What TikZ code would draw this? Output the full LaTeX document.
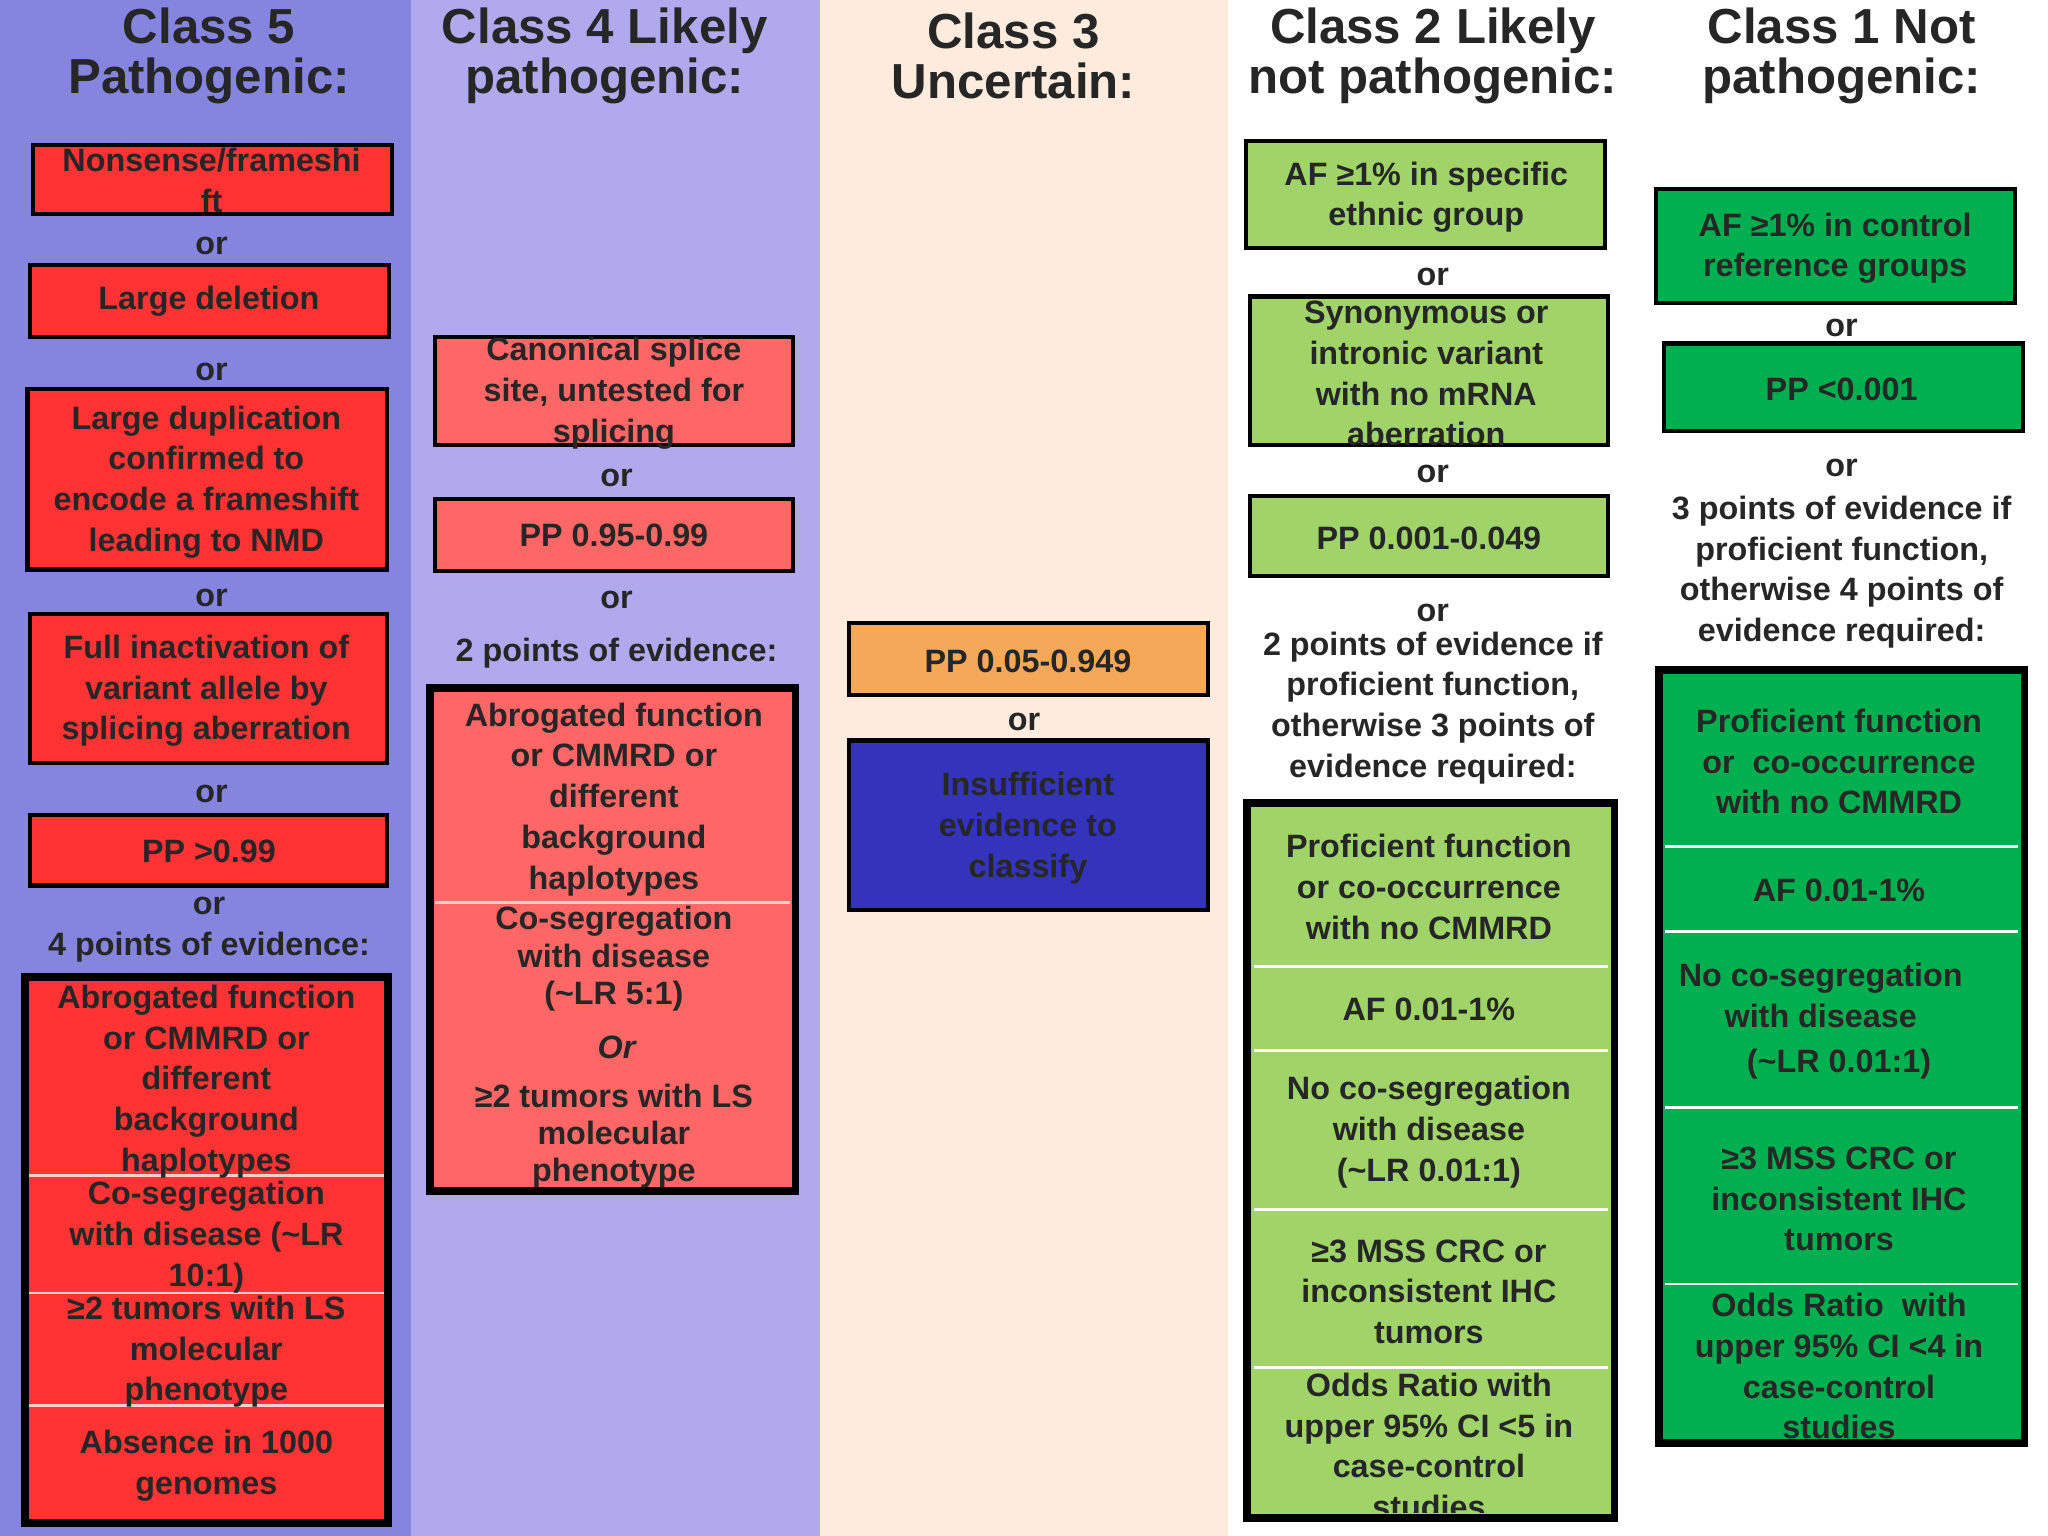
\documentclass[tikz,border=0pt]{standalone}
\usepackage{fontspec}
\setmainfont{Liberation Sans}
\begin{document}
\begin{tikzpicture}[x=0.013061cm,y=-0.013061cm,
  txt/.style={font=\bfseries\fontsize{9.2}{11.6}\selectfont,align=center,inner sep=0pt,text=black!85},
  ttl/.style={font=\bfseries\fontsize{14}{14.2}\selectfont,align=center,inner sep=0pt,text=black!85},
  box/.style={draw=black,line width=1.2pt},
  bigbox/.style={draw=black,line width=2.2pt},
  sep/.style={white!80!red,line width=0.8pt}]
\definecolor{cA}{HTML}{8585DF}\definecolor{cB}{HTML}{B0A9EE}\definecolor{cC}{HTML}{FDEBDD}
\definecolor{rd}{HTML}{FF3333}\definecolor{lr}{HTML}{FF6666}\definecolor{og}{HTML}{F5A858}
\definecolor{bl}{HTML}{3333BB}\definecolor{lg}{HTML}{A0D468}\definecolor{dg}{HTML}{00B050}
\useasboundingbox (0,0) rectangle (1568,1176);
\fill[cA] (0,0) rectangle (315,1176);
\fill[cB] (315,0) rectangle (628,1176);
\fill[cC] (628,0) rectangle (940,1176);
% titles
\node[ttl] (t5) at (160,43) {Class 5\\Pathogenic:};
\node[ttl] (t4) at (463,43) {Class 4 Likely\\pathogenic:};
\node[ttl] (t3) at (776,43) {Class 3\\Uncertain:};
\node[ttl] (t2) at (1097,43) {Class 2 Likely\\not pathogenic:};
\node[ttl] (t1) at (1410,43) {Class 1 Not\\pathogenic:};
% column 1
\draw[box,fill=rd] (25,111) rectangle (300,164);
\node[txt] (a1) at (162,138) {Nonsense/frameshi\\ft};
\node[txt] at (162,188) {or};
\draw[box,fill=rd] (23,203) rectangle (298,258);
\node[txt] (a2) at (160,231) {Large deletion};
\node[txt] at (162,285) {or};
\draw[box,fill=rd] (21,298) rectangle (296,436);
\node[txt] (a3) at (158,369) {Large duplication\\confirmed to\\encode a frameshift\\leading to NMD};
\node[txt] at (162,458) {or};
\draw[box,fill=rd] (23,470) rectangle (296,584);
\node[txt] (a4) at (158,529) {Full inactivation of\\variant allele by\\splicing aberration};
\node[txt] at (162,608) {or};
\draw[box,fill=rd] (23,624) rectangle (296,678);
\node[txt] (a5) at (160,652) {PP >0.99};
\node[txt] at (160,712) {or\\4 points of evidence:};
\draw[bigbox,fill=rd] (19,748) rectangle (297,1166);
\draw[sep] (22,900) -- (294,900) (22,990) -- (294,990) (22,1076) -- (294,1076);
\node[txt] (a6) at (158,828) {Abrogated function\\or CMMRD or\\different\\background\\haplotypes};
\node[txt] (a7) at (158,947) {Co-segregation\\with disease (\textasciitilde LR\\10:1)};
\node[txt] (a8) at (158,1035) {≥2 tumors with LS\\molecular\\phenotype};
\node[txt] (a9) at (158,1122) {Absence in 1000\\genomes};
% column 2
\draw[box,fill=lr] (333,258) rectangle (607,341);
\node[txt] (b1) at (470,301) {Canonical splice\\site, untested for\\splicing};
\node[txt] at (472,366) {or};
\draw[box,fill=lr] (333,382) rectangle (607,437);
\node[txt] (b2) at (470,410) {PP 0.95-0.99};
\node[txt] at (472,482) {or\\[0.4em]2 points of evidence:};
\draw[bigbox,fill=lr] (329,527) rectangle (609,912);
\draw[sep] (333,691) -- (605,691);
\node[txt] (b3) at (470,612) {Abrogated function\\or CMMRD or\\different\\background\\haplotypes};
\node[txt,font=\bfseries\fontsize{9.2}{10.6}\selectfont] (b4) at (470,734) {Co-segregation\\with disease\\(\textasciitilde LR 5:1)};
\node[txt] at (472,802) {\itshape Or};
\node[txt,font=\bfseries\fontsize{9.2}{10.6}\selectfont] (b5) at (470,870) {≥2 tumors with LS\\molecular\\phenotype};
% column 3
\draw[box,fill=og] (650,477) rectangle (925,532);
\node[txt] (c1) at (787,506) {PP 0.05-0.949};
\node[txt] at (784,553) {or};
\draw[box,fill=bl] (650,567) rectangle (925,697);
\node[txt] (c2) at (787,634) {Insufficient\\evidence to\\classify};
% column 4
\draw[box,fill=lg] (954,108) rectangle (1229,190);
\node[txt] (d1) at (1092,151) {AF ≥1\% in specific\\ethnic group};
\node[txt] at (1097,212) {or};
\draw[box,fill=lg] (957,227) rectangle (1231,341);
\node[txt] (d2) at (1092,286) {Synonymous or\\intronic variant\\with no mRNA\\aberration};
\node[txt] at (1097,363) {or};
\draw[box,fill=lg] (957,380) rectangle (1231,441);
\node[txt] (d3) at (1094,412) {PP 0.001-0.049};
\node[txt] at (1097,469) {or};
\node[txt] (d4) at (1097,542) {2 points of evidence if\\proficient function,\\otherwise 3 points of\\evidence required:};
\draw[bigbox,fill=lg] (955,615) rectangle (1236,1162);
\draw[sep,white] (960,740) -- (1231,740) (960,804) -- (1231,804) (960,926) -- (1231,926) (960,1047) -- (1231,1047);
\node[txt] (d5) at (1094,679) {Proficient function\\or co-occurrence\\with no CMMRD};
\node[txt] (d6) at (1094,773) {AF 0.01-1\%};
\node[txt] (d7) at (1094,867) {No co-segregation\\with disease\\(\textasciitilde LR 0.01:1)};
\node[txt] (d8) at (1094,989) {≥3 MSS CRC or\\inconsistent IHC\\tumors};
\begin{scope}
\clip (960,1047) rectangle (1231,1158);
\node[txt] (d9) at (1094,1107) {Odds Ratio with\\upper 95\% CI <5 in\\case-control\\studies};
\end{scope}
% column 5
\draw[box,fill=dg] (1268,145) rectangle (1543,232);
\node[txt] (e1) at (1405,190) {AF ≥1\% in control\\reference groups};
\node[txt] at (1410,251) {or};
\draw[box,fill=dg] (1274,263) rectangle (1549,330);
\node[txt] (e2) at (1410,298) {PP <0.001};
\node[txt] at (1410,358) {or};
\node[txt] (e3) at (1410,438) {3 points of evidence if\\proficient function,\\otherwise 4 points of\\evidence required:};
\draw[bigbox,fill=dg] (1270,513) rectangle (1550,1105);
\draw[sep,white] (1275,648) -- (1545,648) (1275,713) -- (1545,713) (1275,848) -- (1545,848) (1275,983) -- (1545,983);
\node[txt] (e4) at (1408,583) {Proficient function\\or\ \ co-occurrence\\with no CMMRD};
\node[txt] (e5) at (1408,682) {AF 0.01-1\%};
\node[txt] (e6) at (1394,762) {No co-segregation\\with disease};
\node[txt] (e7) at (1408,815) {(\textasciitilde LR 0.01:1)};
\node[txt] (e8) at (1408,918) {≥3 MSS CRC or\\inconsistent IHC\\tumors};
\begin{scope}
\clip (1275,983) rectangle (1545,1101);
\node[txt] (e9) at (1408,1046) {Odds Ratio\ \ with\\upper 95\% CI <4 in\\case-control\\studies};
\end{scope}
\end{tikzpicture}
\end{document}
